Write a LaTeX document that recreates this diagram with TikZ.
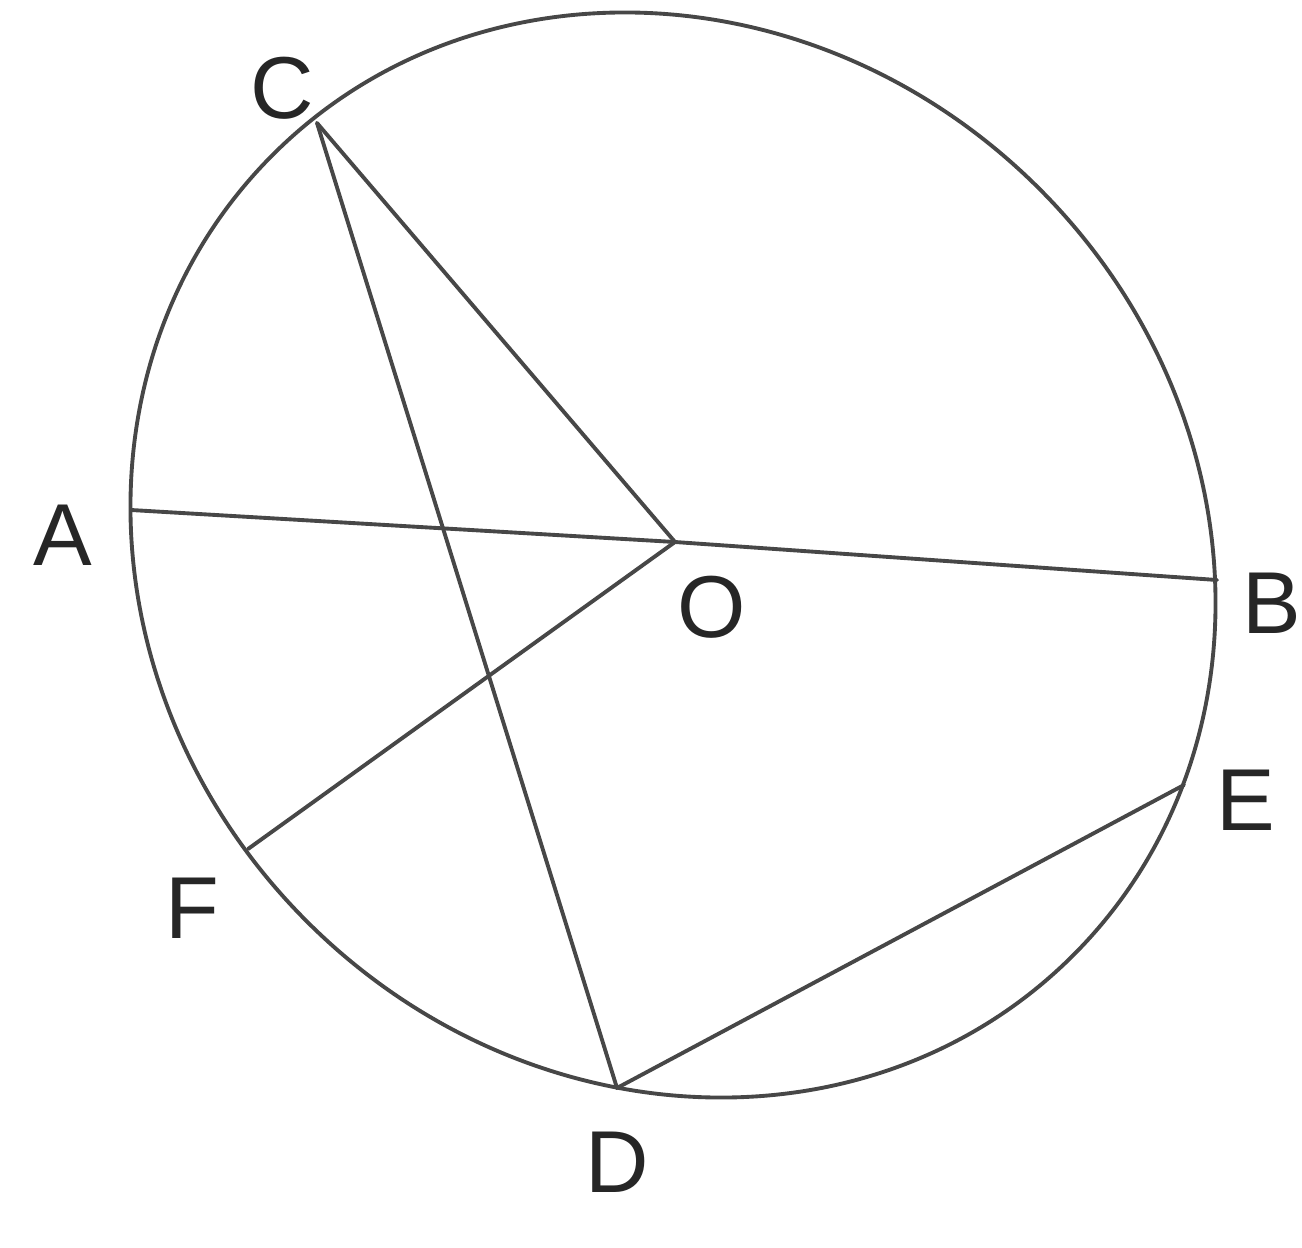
\documentclass[tikz,border=0pt]{standalone}
\usepackage{fontspec}
\setmainfont{Liberation Sans}
\begin{document}
\begin{tikzpicture}[x=0.01cm,y=-0.01cm,
  geo/.style={draw=black!72,line width=1.1pt,line cap=round,line join=round},
  lbl/.style={font=\fontsize{25}{25}\selectfont,text=black!85,inner sep=0pt}]
\useasboundingbox (0,0) rectangle (1302,1248);
% points
\coordinate (M) at (673,555);
\coordinate (C) at (317,123);
\coordinate (A) at (131,510);
\coordinate (B) at (1217,580);
\coordinate (O) at (675,542);
\coordinate (E) at (1184,785);
\coordinate (F) at (248,849);
\coordinate (D) at (617,1088);
% circle (hand drawn, slightly oval)
\draw[geo, rotate around={-45:(M)}] (M) ellipse [x radius=566, y radius=518];
% segments
\draw[geo] (A) -- (O) -- (B);
\draw[geo] (C) -- (O) -- (F);
\draw[geo] (C) -- (D) -- (E);
% labels
\node[lbl] (lC) at (282,88) {C};
\node[lbl] (lA) at (63,535) {A};
\node[lbl] (lO) at (712,607) {O};
\node[lbl] (lB) at (1272,603) {B};
\node[lbl] (lE) at (1246,800) {E};
\node[lbl] (lF) at (192,908) {F};
\node[lbl] (lD) at (617,1162) {D};
\end{tikzpicture}
\end{document}
